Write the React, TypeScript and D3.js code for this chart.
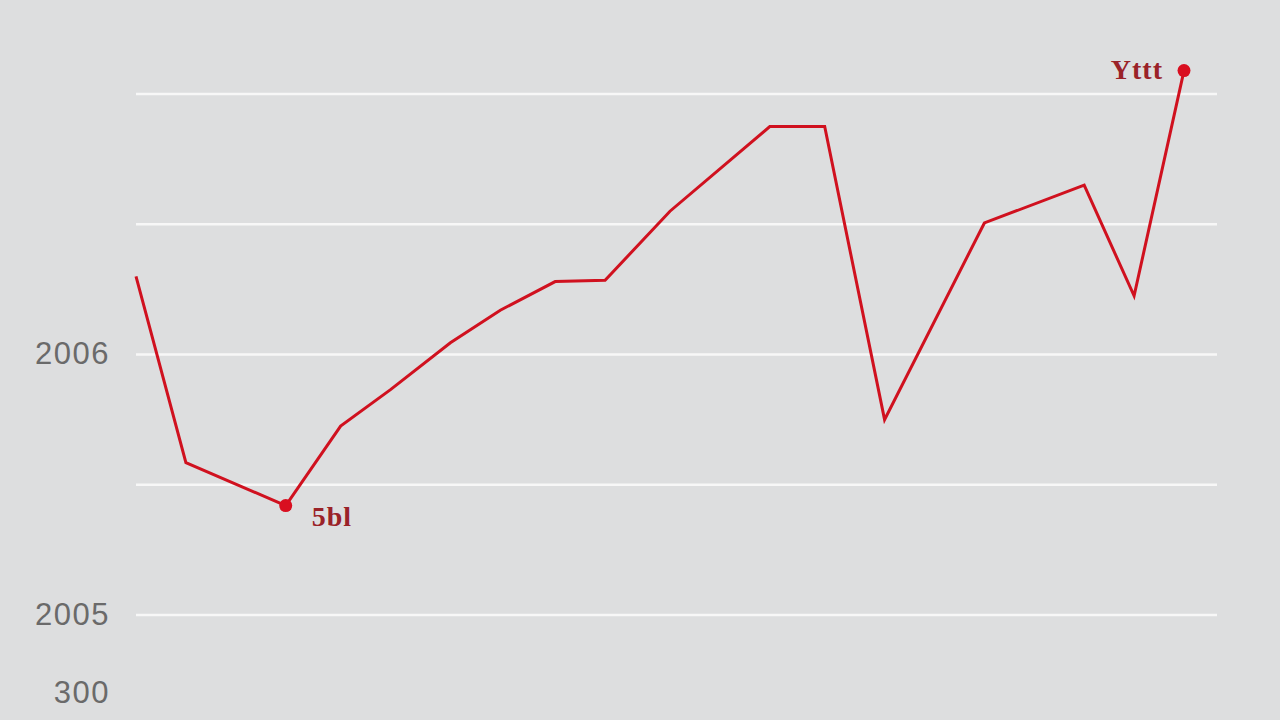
"use client"

import { useEffect, useRef } from "react"
import * as d3 from "d3"

// series (x = period index, y = value in grid units)
const periods = [0, 1, 3, 4.1, 5.1, 6.3, 7.3, 8.4, 9.4, 10.7, 12.7, 13.8, 15, 17, 19, 20, 21]
const values = [2.6, 1.17, 0.84, 1.45, 1.73, 2.09, 2.34, 2.56, 2.57, 3.1, 3.75, 3.75, 1.5, 3.01, 3.3, 2.45, 4.18]

const gridValues = [0, 1, 2, 3, 4]
const tickValues = [-0.6, 0, 2]
const tickLabels = ["300", "2005", "2006"]

// highlighted points with their labels
const markIndex = [2, 16]
const markLabels = ["5bl", "Yttt"]

export default function App() {
  const svgRef = useRef<SVGSVGElement>(null)

  useEffect(() => {
    if (!svgRef.current) return
    const svg = d3.select(svgRef.current)
    svg.selectAll("*").remove()

    const width = 1280
    const height = 720

    svg.append("rect").attr("width", width).attr("height", height).attr("fill", "#dddedf")

    const x = d3.scaleLinear().domain([0, 21]).range([136, 1184])
    const y = d3.scaleLinear().domain([0, 4]).range([615, 94])

    // grid
    svg
      .append("g")
      .selectAll("line")
      .data(gridValues)
      .enter()
      .append("line")
      .attr("x1", 136)
      .attr("x2", 1217)
      .attr("y1", (d) => y(d))
      .attr("y2", (d) => y(d))
      .attr("stroke", "#f7f7f7")
      .attr("stroke-width", 2.5)

    // y labels
    svg
      .append("g")
      .selectAll("text")
      .data(tickValues)
      .enter()
      .append("text")
      .attr("x", 110)
      .attr("y", (d) => y(d) - 1)
      .attr("text-anchor", "end")
      .attr("dominant-baseline", "central")
      .attr("font-family", "Liberation Sans, Arial, sans-serif")
      .attr("font-size", 31)
      .attr("letter-spacing", 1.5)
      .attr("fill", "#6a6a6a")
      .text((d, i) => tickLabels[i])

    const data = periods.map((p, i) => ({ p, v: values[i] }))

    const line = d3
      .line<{ p: number; v: number }>()
      .x((d) => x(d.p))
      .y((d) => y(d.v))

    svg
      .append("path")
      .datum(data)
      .attr("fill", "none")
      .attr("stroke", "#d0111f")
      .attr("stroke-width", 3)
      .attr("stroke-linejoin", "miter")
      .attr("d", line)

    const marks = markIndex.map((i, k) => ({ ...data[i], label: markLabels[k], right: k === 0 }))

    svg
      .append("g")
      .selectAll("circle")
      .data(marks)
      .enter()
      .append("circle")
      .attr("cx", (d) => x(d.p))
      .attr("cy", (d) => y(d.v))
      .attr("r", 6.5)
      .attr("fill", "#d90f20")

    svg
      .append("g")
      .selectAll("text")
      .data(marks)
      .enter()
      .append("text")
      .attr("x", (d) => (d.right ? x(d.p) + 26 : x(d.p) - 21))
      .attr("y", (d) => (d.right ? y(d.v) + 11 : y(d.v) - 1))
      .attr("text-anchor", (d) => (d.right ? "start" : "end"))
      .attr("dominant-baseline", "central")
      .attr("font-family", "Liberation Serif, serif")
      .attr("font-weight", "bold")
      .attr("font-size", 28)
      .attr("letter-spacing", 1)
      .attr("fill", "#9a2228")
      .text((d) => d.label)
  }, [])

  return (
    <div style={{ position: "absolute", left: 0, top: 0, width: 1280, height: 720 }}>
      <svg ref={svgRef} width={1280} height={720} style={{ display: "block" }} />
    </div>
  )
}
